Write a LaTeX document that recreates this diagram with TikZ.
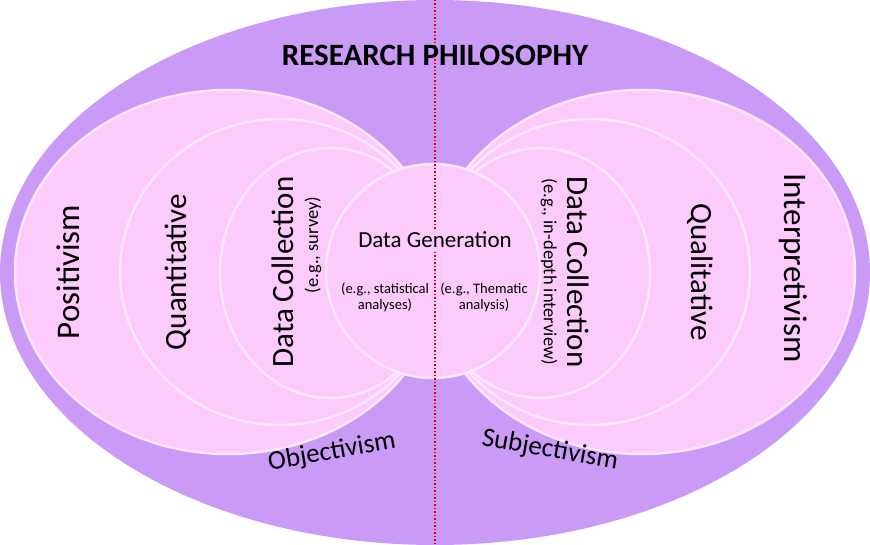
\documentclass[tikz,border=0pt]{standalone}
\usepackage{fontspec}
\setmainfont{Carlito}
\definecolor{purp}{HTML}{C99BF7}
\definecolor{pnk}{HTML}{FCCBFC}
\definecolor{edge}{HTML}{FBE6FB}
\begin{document}
\begin{tikzpicture}[x=1pt,y=-1pt,
  ring/.style={fill=pnk,draw=edge,line width=2.5pt},
  big/.style={font=\fontsize{33}{36}\selectfont},
  mid/.style={font=\fontsize{31}{34}\selectfont},
  small/.style={font=\fontsize{18.5}{20}\selectfont},
  tiny/.style={font=\fontsize{14.5}{16}\selectfont,align=center}]
\useasboundingbox (0,0) rectangle (870,545);
\fill[purp] (435,272.5) ellipse [x radius=435,y radius=272.5];
% left
\draw[ring] (228,272) ellipse [x radius=213,y radius=182];
\draw[ring] (280,272) ellipse [x radius=160,y radius=153];
\draw[ring] (330,273) ellipse [x radius=110,y radius=125];
% right
\draw[ring] (642,272) ellipse [x radius=213,y radius=182];
\draw[ring] (590,272) ellipse [x radius=160,y radius=153];
\draw[ring] (540,273) ellipse [x radius=110,y radius=125];
\draw[ring] (433,271) circle [radius=107];
\draw[red!90!black,line width=1.5pt,dash pattern=on 1.5pt off 2pt] (435,0) -- (435,545);
\node[font=\bfseries\fontsize{31}{34}\selectfont] (t) at (435,55) {RESEARCH PHILOSOPHY};
\node[big,rotate=90] (pos) at (68,272) {Positivism};
\node[mid,rotate=90] (qn) at (178,272) {Quantitative};
\node[mid,rotate=90] (dc1) at (283,272) {Data Collection};
\node[small,rotate=90] (dc1s) at (313,245) {(e.g., survey)};
\node[fill=pnk,inner sep=2pt,font=\fontsize{23}{26}\selectfont] (dg) at (435,240) {Data Generation};
\node[tiny] (sa) at (385,297) {(e.g., statistical\\analyses)};
\node[tiny] (ta) at (484,297) {(e.g., Thematic\\analysis)};
\node[mid,rotate=-90] (dc2) at (578,272) {Data Collection};
\node[small,rotate=-90] (dc2s) at (549,272) {(e.g., in-depth interview)};
\node[mid,rotate=-90] (ql) at (700,272) {Qualitative};
\node[big,rotate=-90] (int) at (793,268) {Interpretivism};
\node[font=\fontsize{27}{30}\selectfont,rotate=10] (obj) at (332,452) {Objectivism};
\node[font=\fontsize{27}{30}\selectfont,rotate=-10] (sub) at (550,450) {Subjectivism};
\end{tikzpicture}
\end{document}
